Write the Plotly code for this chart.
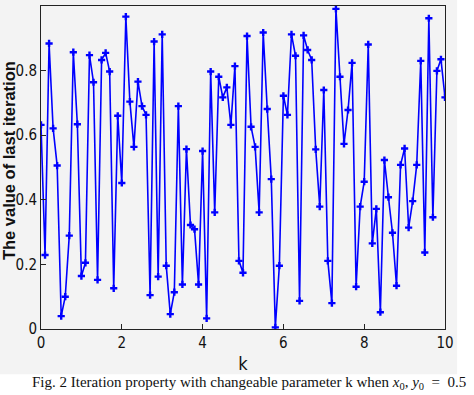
import plotly.graph_objects as go

k_values = [round(i * 0.1, 1) for i in range(101)]
last_iteration = [
    0.632, 0.229, 0.884, 0.621, 0.506, 0.040, 0.100, 0.289, 0.857, 0.634,
    0.164, 0.205, 0.848, 0.764, 0.152, 0.833, 0.855, 0.797, 0.126, 0.660,
    0.452, 0.967, 0.704, 0.564, 0.766, 0.690, 0.663, 0.105, 0.890, 0.162,
    0.912, 0.196, 0.046, 0.114, 0.690, 0.138, 0.557, 0.322, 0.309, 0.138,
    0.551, 0.033, 0.797, 0.361, 0.781, 0.717, 0.748, 0.632, 0.814, 0.211,
    0.174, 0.907, 0.626, 0.564, 0.361, 0.918, 0.681, 0.464, 0.005, 0.196,
    0.722, 0.663, 0.912, 0.846, 0.087, 0.909, 0.864, 0.833, 0.556, 0.379,
    0.740, 0.211, 0.080, 0.991, 0.781, 0.573, 0.678, 0.824, 0.131, 0.379,
    0.456, 0.881, 0.265, 0.372, 0.052, 0.523, 0.408, 0.298, 0.134, 0.508,
    0.559, 0.314, 0.396, 0.508, 0.830, 0.237, 0.962, 0.346, 0.799, 0.835,
    0.717,
]
x_ticks = [0, 2, 4, 6, 8, 10]
y_ticks = [0, 0.2, 0.4, 0.6, 0.8, 1]
y_tick_text = ["0", "0.2", "0.4", "0.6", "0.8", "1"]

fig = go.Figure()
fig.add_trace(go.Scatter(
    x=k_values, y=last_iteration, mode="lines+markers",
    line=dict(color="#0000ff", width=1.6),
    marker=dict(symbol="cross", size=6, color="#0000ff"),
    showlegend=False,
))

narrow = "DejaVu Sans Condensed, Liberation Sans Narrow, Roboto Condensed, Liberation Sans, Arial"
axis_font = dict(family=narrow, size=15, color="#111")
fig.update_layout(
    width=474, height=395,
    margin=dict(l=41, r=29, t=6, b=66, autoexpand=False),
    paper_bgcolor="white",
    plot_bgcolor="#fbfbfb",
    shapes=[dict(type="rect", xref="paper", yref="paper", x0=-0.127, x1=1.03, y0=-0.14, y1=1.02,
                 fillcolor="#f3f3f3", line=dict(width=0), layer="below")],
    xaxis=dict(range=[0, 10], tickvals=x_ticks, ticks="inside", ticklen=5,
               tickcolor="#222", showgrid=False, zeroline=False, automargin=False,
               showline=True, linecolor="#222", linewidth=1, mirror=True,
               tickfont=axis_font,
               title=dict(text="k", font=dict(family=narrow, size=18, color="#111"), standoff=6)),
    yaxis=dict(range=[0, 1], tickvals=y_ticks, ticktext=y_tick_text, ticks="inside", ticklen=5,
               tickcolor="#222", showgrid=False, zeroline=False, automargin=False,
               showline=True, linecolor="#222", linewidth=1, mirror=True,
               tickfont=axis_font),
    annotations=[
        dict(text="The value of last iteration", textangle=-90,
             xref="paper", yref="paper", x=-0.079, y=0.52, xanchor="center", yanchor="middle",
             showarrow=False, font=dict(family="Liberation Sans, Arial", size=16.5, color="#111", weight=600)),
        dict(text="Fig. 2 Iteration property with changeable parameter k when <i>x</i><sub>0</sub>, <i>y</i><sub>0</sub>  =  0.5",
             xref="paper", yref="paper", x=0.515, y=-0.168, xanchor="center", yanchor="middle",
             showarrow=False, font=dict(family="Liberation Serif, Times New Roman", size=15, color="#111")),
    ],
)
fig.write_html("out.html", config={"displayModeBar": False},
               post_script="document.body.style.margin='0';document.body.style.overflow='hidden';")
